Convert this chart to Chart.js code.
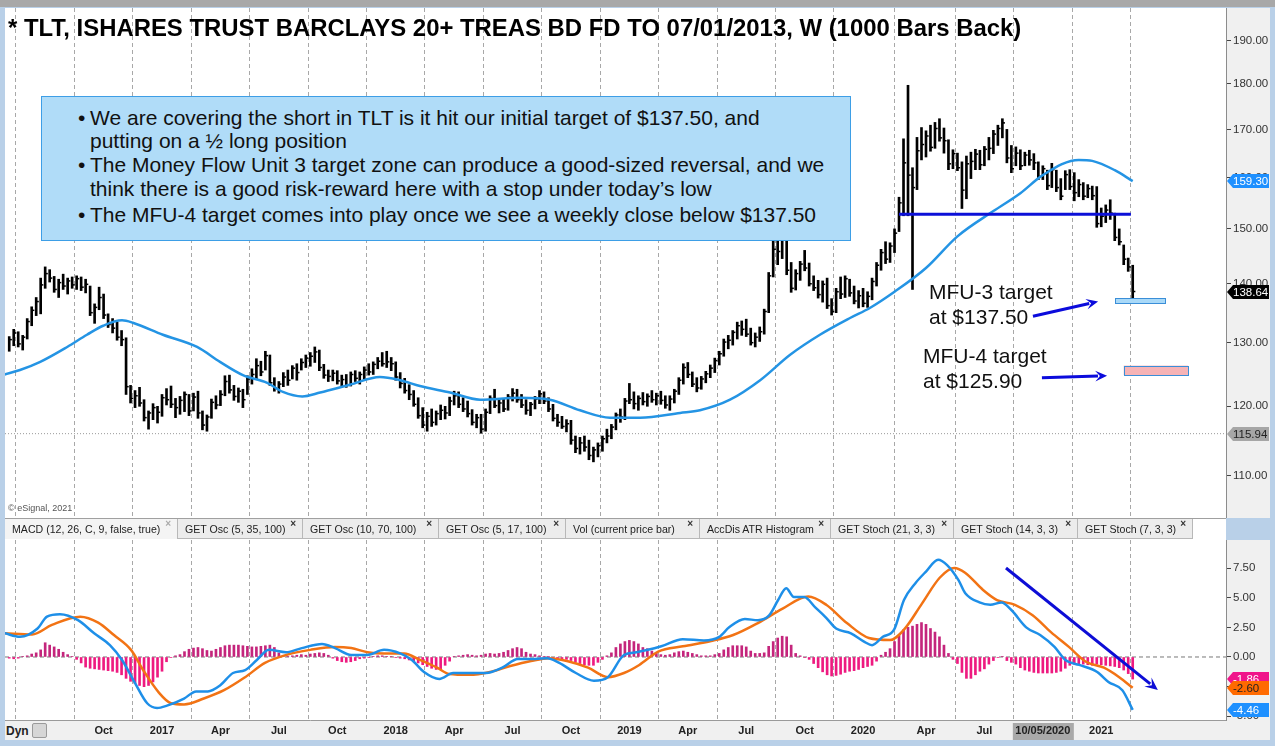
<!DOCTYPE html>
<html>
<head>
<meta charset="utf-8">
<script src="https://cdn.jsdelivr.net/npm/chart.js"></script>
<style>
  body { margin:0; width:1275px; height:746px; background:#b9d0e8; position:relative; overflow:hidden; font-family: Arial, "Liberation Sans", sans-serif; }
  #topbar { position:absolute; left:0; top:0; width:1275px; height:7px; background:#a8a8a8; }
  canvas { position:absolute; background:#f0f0f0; }
  #price { left:5px; top:8px; }
  #macd { left:5px; top:540px; }
  #title { position:absolute; left:8px; top:14px; font-weight:bold; font-size:23.9px; color:#000; white-space:nowrap; }
  #note { position:absolute; left:41px; top:96px; width:808px; height:143px; background:#b0dcf8; border:1px solid #3d9ee6; }
  #note div { position:absolute; font-size:21px; color:#111; white-space:nowrap; }
  .lbl { position:absolute; font-size:21px; color:#111; white-space:nowrap; }
  #copy { position:absolute; left:8px; top:503px; font-size:9px; color:#555; }
  #tabs { position:absolute; left:5px; top:518px; width:1221px; height:21px; background:#fff; border-top:1px solid #a0a0a0; }
  #tabs span { position:absolute; top:0; height:20px; line-height:20px; font-size:10.6px; color:#222; background:#ececec; border-right:1px solid #b8b8b8; border-bottom:1px solid #b8b8b8; box-sizing:border-box; padding-left:7px; }
  #tabs span.on { background:#f4f4f4; border-bottom:none; }
  #tabs span b { position:absolute; right:6px; top:-5px; font-size:10px; color:#333; }
  #tabs span.on b { color:#aaa; }
  #dyn { position:absolute; left:5px; top:721px; width:42px; height:19px; background:#f0f0f0; font-weight:bold; font-size:12px; color:#222; }
  #dyn i { position:absolute; left:27px; top:2px; width:13px; height:13px; background:#d6d6d6; border:1px solid #9a9a9a; border-radius:2px; }
</style>
</head>
<body>
<div id="topbar"></div>
<canvas id="price" width="1265" height="510"></canvas>
<canvas id="macd" width="1265" height="200"></canvas>

<div id="title">* TLT, ISHARES TRUST BARCLAYS 20+ TREAS BD FD TO 07/01/2013, W (1000 Bars Back)</div>
<div id="note">
  <div style="left:36px;top:9px">•</div><div style="left:48px;top:9px">We are covering the short in TLT is it hit our initial target of $137.50, and</div>
  <div style="left:48px;top:32px">putting on a ½ long position</div>
  <div style="left:36px;top:56px">•</div><div style="left:48px;top:56px">The Money Flow Unit 3 target zone can produce a good-sized reversal, and we</div>
  <div style="left:48px;top:80px">think there is a good risk-reward here with a stop under today’s low</div>
  <div style="left:36px;top:106px">•</div><div style="left:48px;top:106px">The MFU-4 target comes into play once we see a weekly close below $137.50</div>
</div>
<div class="lbl" style="left:929px;top:280px">MFU-3 target</div>
<div class="lbl" style="left:929px;top:305px">at $137.50</div>
<div class="lbl" style="left:923px;top:344px">MFU-4 target</div>
<div class="lbl" style="left:923px;top:369px">at $125.90</div>
<div id="copy">© eSignal, 2021</div>
<div id="tabs">
  <span class="on" style="left:0;width:173px">MACD (12, 26, C, 9, false, true)<b>×</b></span>
  <span style="left:173px;width:125px">GET Osc (5, 35, 100)<b>×</b></span>
  <span style="left:298px;width:136px">GET Osc (10, 70, 100)<b>×</b></span>
  <span style="left:434px;width:127px">GET Osc (5, 17, 100)<b>×</b></span>
  <span style="left:561px;width:134px">Vol (current price bar)<b>×</b></span>
  <span style="left:695px;width:131px">AccDis ATR Histogram<b>×</b></span>
  <span style="left:826px;width:123px">GET Stoch (21, 3, 3)<b>×</b></span>
  <span style="left:949px;width:124px">GET Stoch (14, 3, 3)<b>×</b></span>
  <span style="left:1073px;width:115px">GET Stoch (7, 3, 3)<b>×</b></span>
</div>
<div id="dyn"><span style="position:absolute;left:1px;top:3px">Dyn</span><i></i></div>

<script>
// weekly bars, index 0 = week of 20 May 2016, last = week of 26 Feb 2021
const highs = [
  131.0,132.2,131.8,131.2,134.0,136.0,137.6,141.0,143.0,142.5,
  141.3,140.8,141.7,141.0,141.2,141.4,141.2,140.8,139.6,136.5,
  139.4,138.2,134.8,134.0,133.4,132.0,130.8,123.2,122.4,122.9,
  121.0,119.3,120.4,120.0,121.8,122.7,123.1,121.2,121.5,122.2,
  121.8,122.0,122.3,119.3,118.7,121.1,121.6,122.4,124.7,124.8,
  123.2,122.8,122.6,124.7,125.8,127.4,127.0,128.6,128.0,124.4,
  123.8,125.2,125.6,126.3,126.6,127.4,128.0,128.4,129.3,128.8,
  126.5,125.6,125.6,125.5,124.8,124.9,125.3,125.5,125.3,126.1,
  126.6,126.9,127.6,128.4,128.6,127.6,126.9,125.2,124.3,123.3,
  122.4,121.3,119.8,119.1,119.6,119.3,120.2,120.0,121.4,122.3,
  122.2,121.3,120.8,119.5,118.8,118.8,119.6,121.6,122.6,121.0,
  121.2,121.8,122.7,122.6,121.8,121.0,120.6,121.5,122.4,122.2,
  121.3,120.3,118.8,118.5,118.0,117.9,115.6,115.4,115.6,115.0,
  114.0,114.6,115.6,116.6,117.3,119.0,119.6,121.2,123.5,122.2,
  121.6,122.1,121.9,122.4,122.0,122.3,121.6,121.6,122.6,124.4,
  126.6,126.8,125.3,124.4,124.6,125.4,126.4,127.5,128.6,130.6,
  131.2,132.0,133.4,133.6,133.9,132.4,131.6,132.6,135.6,142.0,
  148.2,149.3,149.6,148.6,143.8,142.5,144.0,146.0,143.7,141.4,
  140.6,140.5,141.0,137.4,139.2,141.2,141.4,140.8,139.6,138.8,
  139.2,138.6,141.0,143.8,146.2,147.6,147.4,150.0,156.1,168.0,
  179.7,162.0,168.3,170.4,169.7,170.9,171.5,172.3,170.3,167.8,
  165.7,165.0,163.2,164.4,165.2,165.8,165.6,166.4,168.3,169.8,
  170.9,172.3,170.0,166.6,166.3,165.7,165.2,165.6,164.9,163.2,
  162.4,161.5,162.9,161.5,159.8,161.4,161.6,161.0,159.6,159.0,
  158.6,158.3,158.2,154.0,154.6,155.6,153.0,150.0,147.0,144.6,
  143.3
];
const lows = [
  128.6,129.5,129.3,128.8,130.6,132.8,134.5,134.8,139.2,140.3,
  138.5,137.6,139.0,138.2,139.2,139.0,138.8,138.4,134.5,133.2,
  135.5,134.0,132.5,131.6,130.4,129.5,121.8,120.5,119.8,120.0,
  117.8,116.6,118.0,117.5,118.5,120.2,119.8,118.3,118.8,119.2,
  118.6,119.3,118.2,116.5,116.3,118.2,119.6,120.1,121.6,122.0,
  120.9,120.6,119.8,121.8,123.4,124.2,124.7,125.6,123.2,122.3,
  122.0,123.0,123.2,124.2,124.0,125.6,126.0,126.2,126.8,125.5,
  124.3,123.8,123.9,123.4,123.0,122.9,123.1,123.8,123.4,124.2,
  124.8,124.9,125.8,126.2,126.0,125.5,124.0,122.8,122.0,121.0,
  120.0,118.2,116.8,116.3,117.0,117.2,118.0,118.1,118.6,120.2,
  119.8,119.2,118.4,117.2,116.8,116.0,116.3,118.9,119.8,119.0,
  119.2,119.4,120.8,120.6,119.8,118.8,118.6,119.6,120.4,120.4,
  119.2,117.8,117.0,116.7,116.2,114.4,113.2,113.0,113.4,112.2,
  111.9,112.6,113.4,114.6,115.2,116.5,117.6,118.0,120.4,119.6,
  119.4,120.2,120.0,120.6,120.2,120.3,119.7,119.4,120.5,121.8,
  123.4,124.4,123.0,122.2,122.6,123.6,124.4,125.2,126.4,127.8,
  129.0,129.6,130.6,131.2,131.0,129.6,129.3,130.2,131.4,135.0,
  141.2,143.4,144.5,141.6,138.5,138.9,140.6,142.3,139.6,138.8,
  137.5,136.8,135.7,134.6,135.0,137.4,137.6,137.8,136.5,135.8,
  136.0,135.9,137.2,139.6,142.4,143.6,143.8,145.6,149.5,152.5,
  152.5,139.0,157.6,163.6,164.2,165.4,166.0,167.5,165.0,161.6,
  161.8,161.4,153.9,155.8,159.8,161.6,161.6,162.4,163.6,164.9,
  166.6,168.2,163.0,161.0,162.4,161.6,162.4,162.5,161.6,159.6,
  159.6,157.6,158.0,157.2,155.6,157.6,157.6,155.4,156.2,155.6,
  156.0,155.6,150.3,150.4,151.2,151.8,147.8,147.0,143.4,142.2,
  136.6
];
const closes = [
  130.5,131.6,129.8,130.9,133.5,135.4,136.9,139.8,141.8,141.0,
  139.0,140.2,139.6,140.5,139.8,140.9,139.4,139.9,135.0,135.9,
  137.6,134.6,133.0,132.4,130.9,130.5,123.0,121.2,121.6,120.5,
  118.3,119.0,119.8,119.1,121.3,121.0,120.3,119.8,120.9,121.8,
  119.3,121.4,119.0,117.2,118.4,120.6,120.2,121.8,123.8,122.5,
  121.5,122.3,121.0,124.2,124.9,126.3,125.3,127.9,123.6,122.8,
  123.4,124.5,124.0,125.9,125.2,126.8,127.5,127.8,128.5,126.0,
  124.8,124.6,125.1,123.9,124.1,123.3,124.9,124.3,124.9,125.6,
  125.3,126.5,127.0,126.6,126.9,126.6,124.5,123.5,122.4,121.8,
  120.3,118.6,117.2,118.5,117.6,118.9,119.4,119.0,120.8,121.6,
  120.3,119.6,118.9,117.6,118.3,116.6,119.1,121.2,120.1,120.5,
  119.6,121.4,122.0,121.0,120.2,119.4,120.3,121.1,121.9,120.8,
  119.6,118.2,117.6,117.0,117.4,115.0,113.8,114.6,114.0,112.8,
  113.6,114.2,115.2,115.6,116.9,118.7,118.4,120.8,121.0,120.4,
  121.2,120.7,121.5,121.0,121.6,120.9,120.2,121.1,122.3,124.0,
  126.0,124.9,123.4,122.8,124.2,125.0,125.9,127.1,128.2,130.1,
  130.4,131.7,132.8,132.2,131.4,130.0,130.9,131.8,135.2,141.4,
  146.2,145.8,148.7,142.4,139.2,141.8,143.5,142.8,140.0,139.3,
  138.1,139.9,136.2,135.2,138.6,138.2,140.9,138.4,137.0,137.9,
  136.6,137.8,140.4,143.3,145.6,144.4,146.8,149.2,155.0,163.0,
  160.5,158.0,165.5,166.8,168.6,166.2,170.2,168.2,167.6,162.8,
  164.9,162.0,157.5,162.8,163.3,164.8,162.6,165.8,166.0,169.0,
  170.2,171.4,164.0,161.8,165.0,162.4,164.6,163.6,163.0,160.2,
  161.8,158.4,161.6,158.0,156.3,160.6,158.2,157.0,158.6,156.3,
  157.8,156.4,151.0,152.4,153.6,153.0,148.4,147.6,144.4,143.0,
  138.64
];
// MACD histogram, one value per bar
const histValues = [
  -0.1,-0.15,-0.1,0.05,0.1,0.25,0.35,0.6,1.2,1.0,
  0.85,0.65,0.4,0.2,0.05,-0.2,-0.5,-0.85,-0.95,-1.0,
  -1.05,-1.1,-1.15,-1.2,-1.3,-1.5,-1.8,-2.05,-2.25,-2.4,
  -2.5,-2.4,-2.1,-1.7,-1.2,-0.4,-0.05,0.1,0.2,0.45,
  0.65,0.75,0.8,0.7,0.55,0.5,0.65,0.8,0.95,1.0,
  1.0,1.0,0.95,0.9,0.85,0.85,0.9,0.95,1.0,0.8,
  0.35,0.1,0.05,0.1,0.15,0.2,0.15,0.25,0.3,0.35,
  0.3,0.15,-0.1,-0.3,-0.4,-0.45,-0.4,-0.3,-0.15,-0.1,
  -0.05,0.05,0.1,0.1,0.05,0.05,-0.05,-0.1,-0.15,-0.25,
  -0.35,-0.5,-0.65,-0.8,-0.95,-1.05,-1.0,-0.7,-0.35,0.05,
  0.1,0.15,0.2,0.15,0.1,0.15,0.25,0.3,0.25,0.3,
  0.4,0.55,0.7,0.8,0.7,0.4,0.25,0.2,0.1,0.05,
  0.05,-0.05,-0.1,-0.15,-0.2,-0.3,-0.45,-0.55,-0.65,-0.7,
  -0.7,-0.45,-0.2,0.1,0.35,0.8,1.1,1.3,1.4,1.3,
  1.1,0.8,0.7,0.5,0.3,0.2,0.15,0.2,0.35,0.45,
  0.5,0.4,0.3,0.2,0.1,0.1,0.1,0.2,0.3,0.6,
  0.8,0.95,0.95,0.95,0.85,0.5,0.3,0.3,0.35,0.9,
  1.3,1.6,1.75,1.7,1.0,0.3,0.1,-0.05,-0.2,-0.55,
  -0.9,-1.25,-1.5,-1.6,-1.55,-1.45,-1.3,-1.2,-1.15,-1.05,
  -0.9,-0.8,-0.7,-0.35,0.15,0.4,0.7,1.3,1.8,2.3,
  2.5,2.6,2.75,2.9,2.75,2.4,2.1,1.7,1.0,0.3,
  -0.2,-0.55,-1.3,-1.8,-1.8,-1.5,-1.2,-1.0,-0.6,-0.3,
  -0.05,0.05,-0.3,-0.45,-0.6,-0.9,-1.1,-1.2,-1.3,-1.35,
  -1.35,-1.35,-1.35,-1.3,-1.2,-0.95,-0.7,-0.6,-0.6,-0.6,
  -0.65,-0.7,-0.6,-0.65,-0.7,-0.75,-0.8,-0.9,-1.1,-1.4,
  -1.86
];

// moving average (bar position, price)
const maBars   = [-1, 2.4, 6.9, 12.9, 17.3, 20.9, 25.1, 27.5, 34.2, 41.8, 46.9, 52, 57.4, 60.9, 65.2, 69.2, 75.8, 82.5, 87, 91.4, 98.1, 104.8, 113.7, 120.3, 127, 133.7, 140.4, 149.3, 153.7, 160.4, 167.1, 173.7, 180.4, 187.1, 191.5, 197, 204, 211, 219, 225, 230, 238, 241, 246, 250];
const maValues = [124.9, 125.6, 126.9, 129.3, 131.3, 132.8, 133.7, 133.3, 131.3, 129.3, 126.9, 124.8, 123.6, 122.2, 121.5, 122.1, 123.3, 124.5, 124.0, 123.1, 122.1, 121.0, 121.3, 121.0, 119.4, 118.3, 118.3, 119.0, 119.4, 121.0, 124.0, 128.0, 131.3, 134.1, 135.8, 138.6, 142.8, 148.6, 153.4, 156.9, 160.5, 163.6, 163.4, 161.5, 159.3];

// MACD and signal lines (bar position, value)
const macdBars   = [-1, 2.4, 6.3, 8.4, 11.3, 15.3, 18.9, 22.4, 25.1, 28, 30.7, 32.9, 35.1, 38.9, 41.6, 44.2, 46.9, 49.8, 52.5, 55.1, 57.8, 61.6, 65.1, 69.6, 72.5, 76.1, 79.7, 83.4, 87, 89.6, 92.3, 95.7, 98.8, 102.4, 106.1, 109.7, 113.2, 117, 119.7, 122.4, 126.1, 130.1, 133.2, 136.8, 139.6, 145.1, 149.9, 154.6, 158, 160.2, 163.7, 166.6, 169.1, 171.1, 172.9, 174.6, 176.9, 179.3, 181.8, 184, 187.3, 190.4, 192, 194.4, 196.9, 199.1, 201.6, 204, 206.7, 208.7, 211.2, 212.7, 215.9, 218.3, 220.8, 223, 226.3, 229.4, 232.6, 235, 238.1, 242.1, 244.6, 247.7, 250];
const macdValues = [2.0, 1.7, 2.4, 3.4, 3.6, 3.1, 2.0, 1.0, -0.25, -2.2, -3.9, -4.3, -4.1, -3.5, -2.9, -2.9, -2.4, -1.35, -1.1, -0.25, 0.6, 0.4, 0.75, 1.1, 0.75, 0.17, 0.17, 0.6, 0.3, -0.25, -1.26, -1.85, -1.35, -1.35, -1.35, -0.9, -0.17, -0.17, -0.1, -0.5, -1.35, -2.0, -1.7, 0.17, 0.4, 0.9, 1.5, 1.4, 1.7, 2.5, 3.2, 3.1, 3.5, 4.8, 5.8, 5.05, 5.05, 4.2, 3.3, 2.4, 2.0, 1.26, 1.0, 1.7, 2.3, 4.8, 6.2, 7.2, 8.2, 7.75, 6.5, 5.4, 4.6, 4.4, 4.6, 3.96, 2.5, 1.85, 0.85, -0.25, -0.67, -1.26, -2.1, -2.8, -4.46];
const signalBars   = [-1, 5.1, 9.5, 15.8, 19.8, 23.3, 27.1, 29.8, 33.3, 36, 38.9, 43.3, 47.8, 52.5, 56.9, 61.6, 67, 72.5, 76.1, 79.7, 83.4, 87.9, 91.4, 95.2, 97.9, 102.4, 107, 111.5, 116.1, 120.1, 124.1, 128.8, 133.2, 136.8, 140.2, 144.4, 149.9, 156.2, 161.1, 166.6, 172.2, 177.8, 181.8, 186.4, 191.3, 196, 199.1, 203.1, 207.1, 210.3, 212.7, 216.7, 219.8, 223.8, 227.8, 231.8, 235.8, 239.6, 243.6, 247, 250];
const signalValues = [2.0, 1.9, 2.7, 3.4, 2.9, 1.85, 0.6, -1.1, -3.0, -3.9, -4.0, -3.5, -2.8, -1.7, -0.5, 0.17, 0.6, 0.85, 0.75, 0.4, 0.3, 0.3, -0.25, -0.9, -1.43, -1.5, -1.26, -0.76, -0.34, -0.1, -0.34, -0.9, -1.7, -1.35, -0.67, 0.45, 0.9, 1.35, 1.85, 2.86, 4.1, 5.1, 4.4, 2.86, 1.6, 1.43, 2.3, 4.5, 6.7, 7.5, 7.1, 5.65, 4.8, 4.4, 3.5, 2.1, 0.85, -0.4, -0.9, -1.7, -2.6];

// time axis (bar position of each label) and value axes
const tickBars   = [8, 21, 34, 47, 60, 73, 86, 99, 112, 125, 138, 151, 164, 177, 190, 204, 217, 230, 243];
const tickLabels = ['', 'Oct', '2017', 'Apr', 'Jul', 'Oct', '2018', 'Apr', 'Jul', 'Oct', '2019', 'Apr', 'Jul', 'Oct', '2020', 'Apr', 'Jul', '10/05/2020', '2021'];
const priceTicks = [110, 120, 130, 140, 150, 160, 170, 180, 190];
const macdTicks  = [-5, -2.5, 0, 2.5, 5, 7.5];
const refLevel = 115.94;

// annotations, in bar / value units
const neckline  = { from: 198, to: 249.6, price: 152.8 };
const mfu3Zone  = { from: 246.1, to: 257.2, top: 137.5, bottom: 136.6 };
const mfu4Zone  = { from: 248, to: 262.3, top: 126.3, bottom: 124.8 };
const mfu3Arrow = { x1: 227.8, y1: 134.4, x2: 242.3, y2: 136.9 };
const mfu4Arrow = { x1: 229.8, y1: 124.4, x2: 244.3, y2: 124.7 };
const macdArrow = { x1: 221.8, y1: 7.5, x2: 255.6, y2: -2.78 };

const X_MIN = -0.94, X_MAX = 270.76;
const FONT = 'Arial, "Liberation Sans", sans-serif';

function pts(xs, ys) {
    return xs.map((x, i) => ({ x: x, y: ys[i] }));
}

function drawArrow(ctx, x1, y1, x2, y2, color, width, head) {
    const a = Math.atan2(y2 - y1, x2 - x1);
    ctx.save();
    ctx.strokeStyle = color;
    ctx.fillStyle = color;
    ctx.lineWidth = width;
    ctx.beginPath();
    ctx.moveTo(x1, y1);
    ctx.lineTo(x2 - head * 0.7 * Math.cos(a), y2 - head * 0.7 * Math.sin(a));
    ctx.stroke();
    ctx.beginPath();
    ctx.moveTo(x2, y2);
    ctx.lineTo(x2 - head * Math.cos(a - 0.42), y2 - head * Math.sin(a - 0.42));
    ctx.lineTo(x2 - head * 0.55 * Math.cos(a), y2 - head * 0.55 * Math.sin(a));
    ctx.lineTo(x2 - head * Math.cos(a + 0.42), y2 - head * Math.sin(a + 0.42));
    ctx.closePath();
    ctx.fill();
    ctx.restore();
}

// price tag on the right axis
function drawTag(chart, value, bg, fg) {
    const ctx = chart.ctx;
    const y = Math.round(chart.scales.y.getPixelForValue(value));
    const x0 = chart.chartArea.right + 1, x1 = chart.width - 1;
    ctx.save();
    ctx.fillStyle = bg;
    ctx.beginPath();
    ctx.moveTo(x0, y);
    ctx.lineTo(x0 + 6, y - 7);
    ctx.lineTo(x1, y - 7);
    ctx.lineTo(x1, y + 7);
    ctx.lineTo(x0 + 6, y + 7);
    ctx.closePath();
    ctx.fill();
    ctx.fillStyle = fg;
    ctx.font = '11.5px ' + FONT;
    ctx.textBaseline = 'middle';
    ctx.fillText(value.toFixed(2), x0 + 6, y + 1);
    ctx.restore();
}

const whiteArea = {
    id: 'whiteArea',
    beforeDraw: chart => {
        const a = chart.chartArea;
        chart.ctx.save();
        chart.ctx.fillStyle = '#fff';
        chart.ctx.fillRect(a.left, a.top, a.right - a.left, a.bottom - a.top);
        chart.ctx.restore();
    }
};

function timeAxis(showLabels) {
    return {
        type: 'linear',
        min: X_MIN,
        max: X_MAX,
        offset: false,
        afterBuildTicks: s => { s.ticks = tickBars.map(v => ({ value: v })); },
        afterFit: s => { s.height = showLabels ? 20 : 0; s.paddingLeft = 0; s.paddingRight = 0; },
        grid: { color: '#a8a8a8', lineWidth: 1, drawTicks: false },
        border: { display: showLabels, color: '#9a9a9a', dash: [4, 3] },
        ticks: {
            display: showLabels,
            autoSkip: false,
            maxRotation: 0,
            padding: 4,
            color: '#222',
            font: { family: FONT, size: 11, weight: 'bold' },
            callback: (v, i) => tickLabels[i]
        }
    };
}

function valueAxis(type, min, max, ticks) {
    return {
        type: type,
        position: 'right',
        min: min,
        max: max,
        afterBuildTicks: s => { s.ticks = ticks.map(v => ({ value: v })); },
        afterFit: s => { s.width = 44; s.paddingTop = 0; s.paddingBottom = 0; },
        grid: { drawOnChartArea: false, drawTicks: true, tickLength: 5, tickColor: '#444' },
        border: { display: true, color: '#8c8c8c' },
        ticks: {
            padding: 2,
            color: '#333',
            font: { family: FONT, size: 11.5 },
            callback: v => Number(v).toFixed(2)
        }
    };
}

//가격 차트
const priceChart = new Chart(document.getElementById('price').getContext('2d'), {
    type: 'line',
    data: {
        datasets: [
            {
                data: [{ x: neckline.from, y: neckline.price }, { x: neckline.to, y: neckline.price }],
                borderColor: '#0c10d8', borderWidth: 3, pointRadius: 0
            },
            {
                data: pts(maBars, maValues),
                borderColor: '#2494e4', borderWidth: 2.5, pointRadius: 0,
                cubicInterpolationMode: 'monotone'
            },
            {
                type: 'scatter',
                data: closes.map((c, i) => ({ x: i + 0.3, y: c })),
                pointStyle: 'line', pointRadius: 1.3, borderColor: '#000', borderWidth: 1.5
            },
            {
                type: 'bar',
                data: highs.map((h, i) => ({ x: i, y: [lows[i], h] })),
                backgroundColor: '#000', barThickness: 2, grouped: false
            },
            {
                data: [{ x: X_MIN, y: refLevel }, { x: X_MAX, y: refLevel }],
                borderColor: '#9a9a9a', borderWidth: 1, borderDash: [1, 2], pointRadius: 0
            }
        ]
    },
    plugins: [whiteArea, {
        id: 'priceNotes',
        afterDatasetsDraw: chart => {
            const ctx = chart.ctx, xs = chart.scales.x, ys = chart.scales.y;
            [[mfu3Zone, '#a9d9f8'], [mfu4Zone, '#f6b3b6']].forEach(([z, col]) => {
                const x1 = xs.getPixelForValue(z.from), x2 = xs.getPixelForValue(z.to);
                const y1 = ys.getPixelForValue(z.top), y2 = ys.getPixelForValue(z.bottom);
                ctx.save();
                ctx.fillStyle = col;
                ctx.strokeStyle = '#3a8ed8';
                ctx.lineWidth = 1;
                ctx.fillRect(x1, y1, x2 - x1, y2 - y1);
                ctx.strokeRect(Math.round(x1) + 0.5, Math.round(y1) + 0.5, Math.round(x2 - x1), Math.round(y2 - y1));
                ctx.restore();
            });
            [mfu3Arrow, mfu4Arrow].forEach(a => {
                drawArrow(ctx, xs.getPixelForValue(a.x1), ys.getPixelForValue(a.y1),
                    xs.getPixelForValue(a.x2), ys.getPixelForValue(a.y2), '#0b0bdc', 3, 13);
            });
        },
        afterDraw: chart => {
            drawTag(chart, maValues[maValues.length - 1], '#1e90ff', '#fff');
            drawTag(chart, closes[closes.length - 1], '#000', '#fff');
            drawTag(chart, refLevel, '#a6a6a6', '#222');
        }
    }],
    options: {
        responsive: false,
        animation: false,
        devicePixelRatio: 1,
        layout: { padding: 0, autoPadding: false },
        plugins: { legend: { display: false }, tooltip: { enabled: false } },
        scales: {
            x: timeAxis(false),
            y: valueAxis('logarithmic', 104.27, 198.05, priceTicks)
        }
    }
});

//MACD 차트
const macdChart = new Chart(document.getElementById('macd').getContext('2d'), {
    type: 'line',
    data: {
        datasets: [
            {
                data: pts(macdBars, macdValues),
                borderColor: '#1e8fe8', borderWidth: 2.5, pointRadius: 0,
                cubicInterpolationMode: 'monotone'
            },
            {
                data: pts(signalBars, signalValues),
                borderColor: '#f27314', borderWidth: 2.5, pointRadius: 0,
                cubicInterpolationMode: 'monotone'
            },
            {
                type: 'bar',
                data: histValues.map((v, i) => ({ x: i, y: v })),
                backgroundColor: histValues.map(v => v >= 0 ? '#c4257c' : '#ee1a80'),
                barThickness: 2, grouped: false
            },
            {
                data: [{ x: X_MIN, y: 0 }, { x: X_MAX, y: 0 }],
                borderColor: '#777', borderWidth: 1, borderDash: [4, 3], pointRadius: 0
            }
        ]
    },
    plugins: [whiteArea, {
        id: 'macdNotes',
        beforeDraw: chart => {
            // highlighted cursor date under the axis label
            const x = chart.scales.x.getPixelForValue(tickBars[17]);
            chart.ctx.save();
            chart.ctx.fillStyle = '#a9a9a9';
            chart.ctx.fillRect(x - 30, chart.chartArea.bottom + 3, 61, 17);
            chart.ctx.restore();
        },
        afterDatasetsDraw: chart => {
            const xs = chart.scales.x, ys = chart.scales.y;
            drawArrow(chart.ctx, xs.getPixelForValue(macdArrow.x1), ys.getPixelForValue(macdArrow.y1),
                xs.getPixelForValue(macdArrow.x2), ys.getPixelForValue(macdArrow.y2), '#0d0dd6', 3, 14);
        },
        afterDraw: chart => {
            drawTag(chart, histValues[histValues.length - 1], '#f0148a', '#fff');
            drawTag(chart, signalValues[signalValues.length - 1], '#ff6a00', '#222');
            drawTag(chart, macdValues[macdValues.length - 1], '#1e90ff', '#fff');
        }
    }],
    options: {
        responsive: false,
        animation: false,
        devicePixelRatio: 1,
        layout: { padding: 0, autoPadding: false },
        plugins: { legend: { display: false }, tooltip: { enabled: false } },
        scales: {
            x: timeAxis(true),
            y: valueAxis('linear', -5.31, 9.86, macdTicks)
        }
    }
});
</script>
</body>
</html>
